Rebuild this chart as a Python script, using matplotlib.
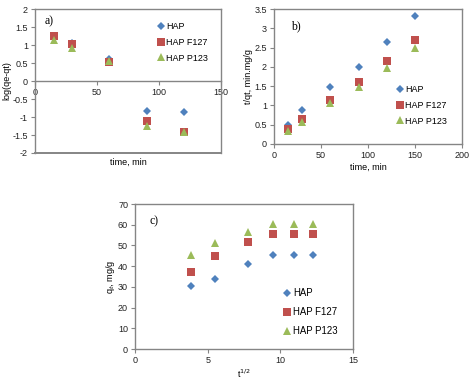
import matplotlib
matplotlib.use("Agg")
import matplotlib.pyplot as plt
from matplotlib.ticker import FuncFormatter, MultipleLocator

plt.rcParams['font.family'] = ['Liberation Sans', 'DejaVu Sans']
plt.rcParams['axes.unicode_minus'] = False

series = ["HAP", "HAP F127", "HAP P123"]
colors = ["#4F81BD", "#C0504D", "#9BBB59"]
markers = ["D", "s", "^"]
msizes = [3.8, 5.3, 5.2]

# panel a: pseudo-first-order
time_a = [15, 30, 60, 90, 120]
loga_hap = [1.20, 1.06, 0.62, -0.82, -0.85]
loga_f127 = [1.25, 1.03, 0.54, -1.10, -1.41]
loga_p123 = [1.15, 0.93, 0.56, -1.24, -1.43]

# panel b: pseudo-second-order
time_b = [15, 30, 60, 90, 120, 150]
tq_hap = [0.49, 0.89, 1.47, 1.99, 2.65, 3.31]
tq_f127 = [0.40, 0.66, 1.14, 1.61, 2.15, 2.69]
tq_p123 = [0.33, 0.58, 1.05, 1.48, 1.98, 2.49]

# panel c: intraparticle diffusion
sqrt_t = [3.87, 5.48, 7.75, 9.49, 10.95, 12.25]
qt_hap = [30.6, 33.8, 41.0, 45.4, 45.4, 45.4]
qt_f127 = [37.0, 44.7, 51.7, 55.5, 55.5, 55.5]
qt_p123 = [45.2, 51.2, 56.4, 60.3, 60.2, 60.2]

fig = plt.figure(figsize=(4.74, 3.85), dpi=100)
fmt = FuncFormatter(lambda v, p: '%g' % round(v, 2))
gray = '#858585'
tfs = 6.5

def style(ax):
    for s in ax.spines.values():
        s.set_color(gray)
        s.set_linewidth(1.0)
    ax.tick_params(direction='out', length=3, width=0.8, color=gray,
                   labelsize=tfs, pad=2, labelcolor='#222222')
    ax.yaxis.set_major_formatter(fmt)
    ax.xaxis.set_major_formatter(fmt)

def add_legend(ax, fx, fy, fs, spacing):
    ax.legend(loc='upper left', bbox_to_anchor=(fx, fy),
              bbox_transform=fig.transFigure, frameon=False, fontsize=fs,
              handlelength=0.9, handletextpad=0.15, borderpad=0,
              borderaxespad=0, labelspacing=spacing, markerscale=1.0)

# ---- panel a
axa = fig.add_axes([0.0738, 0.6026, 0.3924, 0.374])
for ys, c, m, ms, lab in zip([loga_hap, loga_f127, loga_p123], colors, markers, msizes, series):
    axa.plot(time_a, ys, linestyle='none', marker=m, color=c, markersize=ms,
             markeredgewidth=0, label=lab)
axa.set_xlim(0, 150)
axa.set_ylim(-2, 2)
axa.xaxis.set_major_locator(MultipleLocator(50))
axa.yaxis.set_major_locator(MultipleLocator(0.5))
style(axa)
axa.spines['bottom'].set_position(('data', 0))
axa.axhline(-2, color=gray, linewidth=1.4, clip_on=False)
axa.set_ylabel('log(qe-qt)', fontsize=6.5, labelpad=1)
axa.set_xlabel('time, min', fontsize=6.5)
axa.xaxis.set_label_coords(0.5, -0.035)
axa.text(45 / 474, 1 - 21 / 385, 'a)', transform=fig.transFigure,
         family='Liberation Serif', fontsize=8.5, ha='left', va='center')
add_legend(axa, 157 / 474, 1 - 22 / 385, 6.5, 0.75)

# ---- panel b
axb = fig.add_axes([0.578, 0.626, 0.3966, 0.3506])
for ys, c, m, ms, lab in zip([tq_hap, tq_f127, tq_p123], colors, markers, msizes, series):
    axb.plot(time_b, ys, linestyle='none', marker=m, color=c, markersize=ms,
             markeredgewidth=0, label=lab)
axb.set_xlim(0, 200)
axb.set_ylim(0, 3.5)
axb.xaxis.set_major_locator(MultipleLocator(50))
axb.yaxis.set_major_locator(MultipleLocator(0.5))
style(axb)
axb.set_ylabel('t/qt, min.mg/g', fontsize=6.5, labelpad=1)
axb.set_xlabel('time, min', fontsize=6.5, labelpad=2)
axb.text(291 / 474, 1 - 26 / 385, 'b)', transform=fig.transFigure,
         family='Liberation Serif', fontsize=8.5, ha='left', va='center')
add_legend(axb, 396 / 474, 1 - 85 / 385, 6.5, 0.75)

# ---- panel c
axc = fig.add_axes([0.2848, 0.0935, 0.4599, 0.3766])
for ys, c, m, ms, lab in zip([qt_hap, qt_f127, qt_p123], colors, markers, msizes, series):
    axc.plot(sqrt_t, ys, linestyle='none', marker=m, color=c, markersize=ms * 1.1,
             markeredgewidth=0, label=lab)
axc.set_xlim(0, 15)
axc.set_ylim(0, 70)
axc.xaxis.set_major_locator(MultipleLocator(5))
axc.yaxis.set_major_locator(MultipleLocator(10))
style(axc)
axc.set_ylabel('q$_t$, mg/g', fontsize=6.5, labelpad=1)
axc.set_xlabel('t$^{1/2}$', fontsize=6.5, labelpad=2)
axc.text(150 / 474, 1 - 221 / 385, 'c)', transform=fig.transFigure,
         family='Liberation Serif', fontsize=8.5, ha='left', va='center')
add_legend(axc, 283 / 474, 1 - 288 / 385, 6.9, 0.95)

fig.savefig('out.png', dpi=100)
